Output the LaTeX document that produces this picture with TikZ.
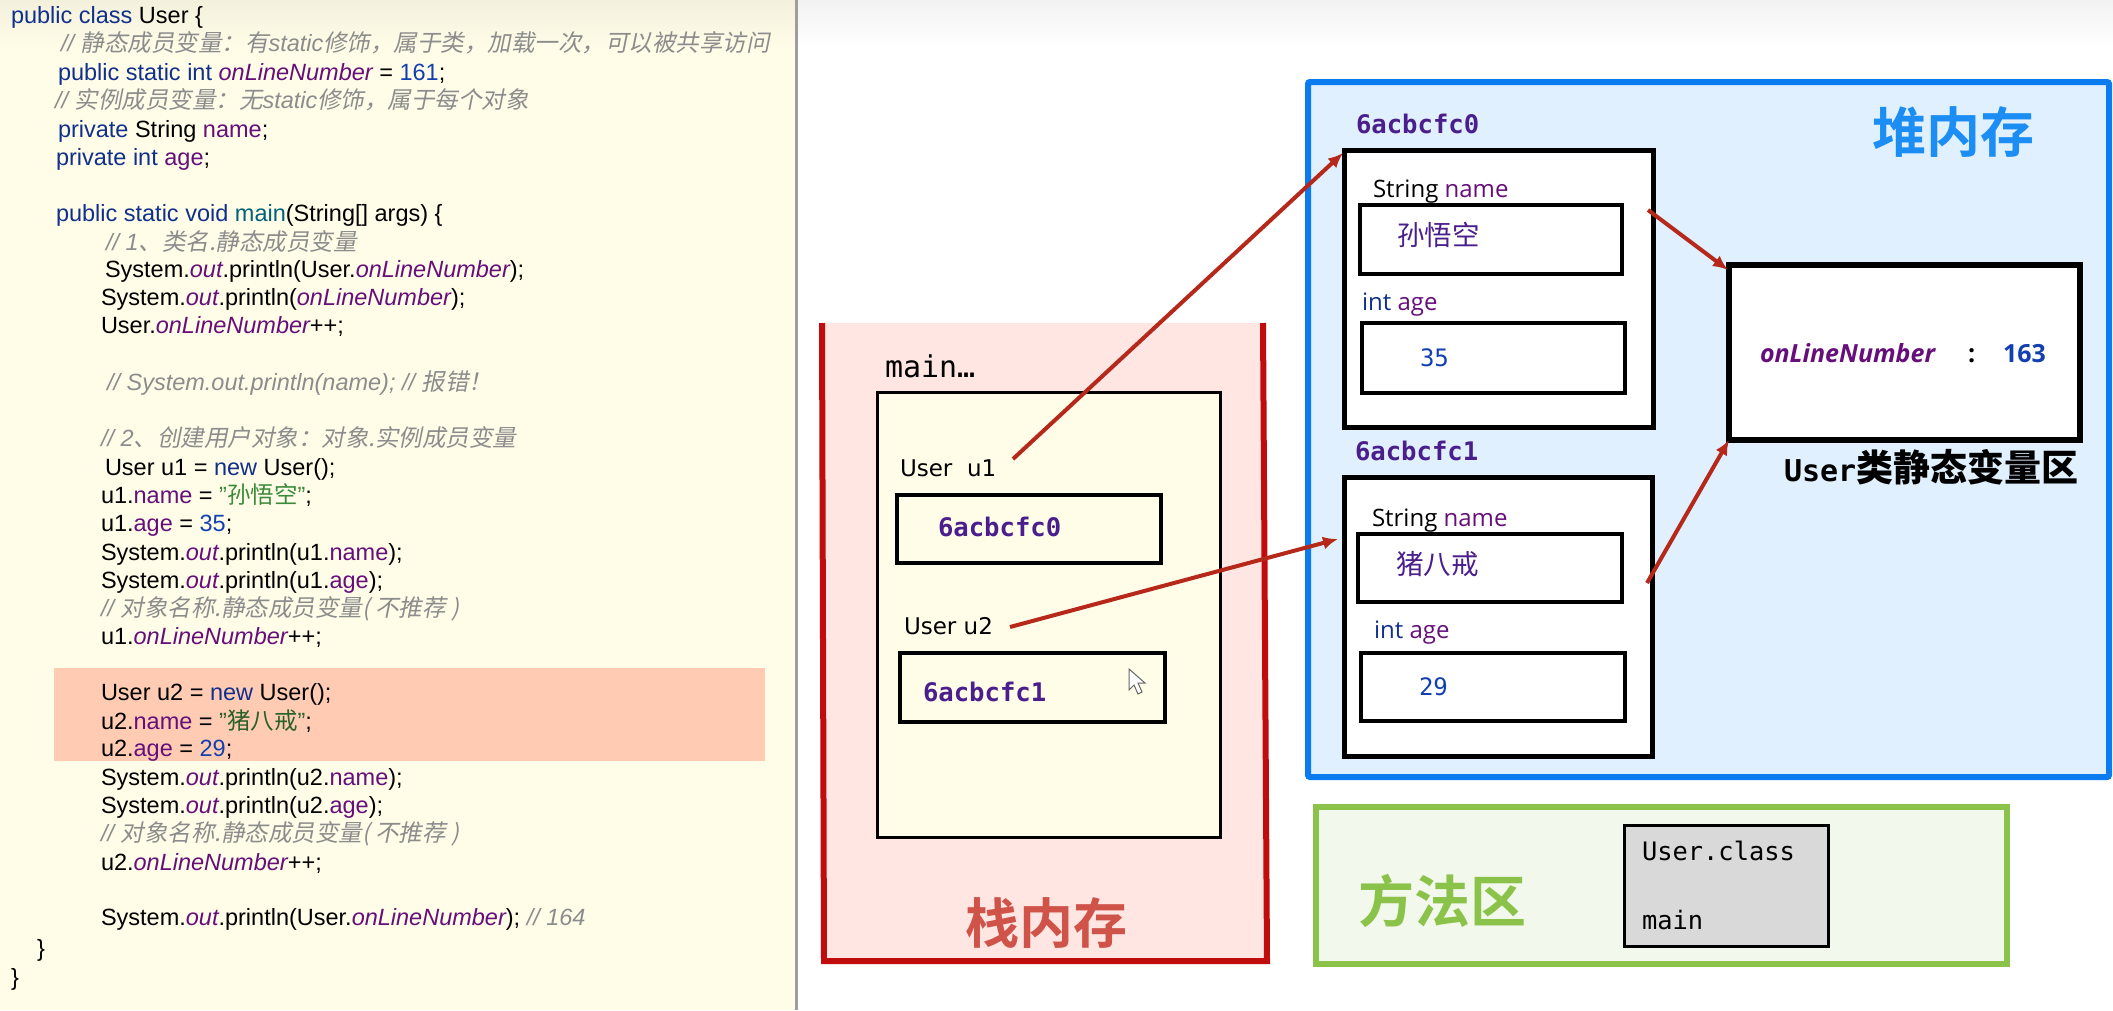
\documentclass[tikz,border=0pt]{standalone}
\usepackage{fontspec}
\setmainfont{Liberation Sans}
\newfontfamily\zhf{Noto Sans CJK SC}
\newfontfamily\zhbf{Noto Sans CJK SC Bold}
\newfontfamily\zhit[FakeSlant=0.2]{Noto Sans CJK SC}
\newfontfamily\monof{DejaVu Sans Mono}
\newfontfamily\dvs{DejaVu Sans}
\newfontfamily\ops{Open Sans}
\usetikzlibrary{arrows.meta,shadings,calc}
\definecolor{kw}{HTML}{10308C}
\definecolor{fld}{HTML}{660E7A}
\definecolor{cmt}{HTML}{8C8C8C}
\definecolor{strg}{HTML}{3A8A3A}
\definecolor{numc}{HTML}{1240B0}
\definecolor{mth}{HTML}{00627A}
\definecolor{paper}{HTML}{FFFDE8}
\definecolor{papertop}{HTML}{F3F0DC}
\definecolor{hilite}{HTML}{FFCCB3}
\definecolor{stackred}{HTML}{C00C0C}
\definecolor{stackfill}{HTML}{FFE6E3}
\definecolor{stacktxt}{HTML}{CF5348}
\definecolor{heapb}{HTML}{0A7CF0}
\definecolor{heapfill}{HTML}{E1F0FE}
\definecolor{heaptxt}{HTML}{1C8DF2}
\definecolor{methb}{HTML}{8BC34A}
\definecolor{methfill}{HTML}{F3F8EC}
\definecolor{addr}{HTML}{4A1E8C}
\definecolor{arrowc}{HTML}{B5281A}
\newcommand{\kw}[1]{\textcolor{kw}{#1}}
\newcommand{\fl}[1]{\textcolor{fld}{#1}}
\newcommand{\sfl}[1]{\textcolor{fld}{\itshape #1}}
\newcommand{\nm}[1]{\textcolor{numc}{#1}}
\newcommand{\zc}[1]{{\zhit #1}}
\newcommand{\cm}[1]{\textcolor{cmt}{\itshape #1}}
\newcommand{\pxf}[1]{\fontsize{#1pt}{#1pt}\selectfont}
\tikzset{
  x=1pt,y=-1pt,
  codeline/.style={anchor=base west,inner sep=0pt,outer sep=0pt,font=\pxf{23.5}},
  txt/.style={anchor=base west,inner sep=0pt,outer sep=0pt},
  thinbox/.style={draw=black,line width=3pt,inner sep=0pt,outer sep=0pt},
  midbox/.style={draw=black,line width=4pt,fill=white,inner sep=0pt,outer sep=0pt},
  bigbox/.style={draw=black,line width=5pt,fill=white,inner sep=0pt,outer sep=0pt},
  lnk/.style={draw=arrowc,line width=4pt,-{Latex[length=15pt,width=13pt]}},
  addrtxt/.style={txt,font=\monof\bfseries\pxf{25.6},text=addr},
  vartxt/.style={txt,font=\ops\pxf{24}},
  zhval/.style={txt,font=\zhf\pxf{27.5},text=addr},
  numval/.style={txt,font=\monof\pxf{24},text=numc},
}
% box by corners
\newcommand{\bx}[6]{%
  \pgfmathsetmacro{\bxw}{#5-#3}\pgfmathsetmacro{\bxh}{#6-#4}%
  \node[#2,minimum width=\bxw pt,minimum height=\bxh pt,anchor=north west] (#1) at (#3,#4) {};}
\newcommand{\cl}[3]{\node[codeline] (#1) at (#2) {#3};}
\begin{document}
\begin{tikzpicture}
\useasboundingbox (0,0) rectangle (2113,1010);
\fill[white] (0,0) rectangle (2113,1010);
\shade[top color=black!5,bottom color=white] (797,0) rectangle (2113,48);
\fill[paper] (0,0) rectangle (796,1010);
\shade[top color=papertop,bottom color=paper] (0,0) rectangle (796,48);
\fill[black!38] (794.5,0) rectangle (797.5,1010);
% highlight
\fill[hilite] (54,668) rectangle (765,761);
% code
\cl{c01}{11,23}{\kw{public class} User \{}
\cl{c02}{61,51}{\cm{// \zc{静态成员变量：有}static\zc{修饰，属于类，加载一次，可以被共享访问}}}
\cl{c03}{58,80}{\kw{public static int} \sfl{onLineNumber} = \nm{161};}
\cl{c04}{55,108}{\cm{// \zc{实例成员变量：无}static\zc{修饰，属于每个对象}}}
\cl{c05}{58,137}{\kw{private} String \fl{name};}
\cl{c06}{56,165}{\kw{private int} \fl{age};}
\cl{c07}{56,221}{\kw{public static void} \textcolor{mth}{main}(String[] args) \{}
\cl{c08}{106,250}{\cm{// 1\zc{、类名.静态成员变量}}}
\cl{c09}{105,277}{System.\sfl{out}.println(User.\sfl{onLineNumber});}
\cl{c10}{101,305}{System.\sfl{out}.println(\sfl{onLineNumber});}
\cl{c11}{101,333}{User.\sfl{onLineNumber}++;}
\cl{c12}{107,390}{\cm{// System.out.println(name); // \zc{报错！}}}
\cl{c13}{101,446}{\cm{// 2\zc{、创建用户对象：对象.实例成员变量}}}
\cl{c14}{105,475}{User u1 = \kw{new} User();}
\cl{c15}{101,503}{u1.\fl{name} = \textcolor{strg}{"{\zhf 孙悟空}"};}
\cl{c16}{101,531}{u1.\fl{age} = \nm{35};}
\cl{c17}{101,560}{System.\sfl{out}.println(u1.\fl{name});}
\cl{c18}{101,588}{System.\sfl{out}.println(u1.\fl{age});}
\cl{c19}{101,616}{\cm{// \zc{对象名称.静态成员变量( 不推荐 )}}}
\cl{c20}{101,644}{u1.\sfl{onLineNumber}++;}
\cl{c21}{101,700}{User u2 = \kw{new} User();}
\cl{c22}{101,729}{u2.\fl{name} = \textcolor{strg!70!black}{"{\zhf 猪八戒}"};}
\cl{c23}{101,756}{u2.\fl{age} = \nm{29};}
\cl{c24}{101,785}{System.\sfl{out}.println(u2.\fl{name});}
\cl{c25}{101,813}{System.\sfl{out}.println(u2.\fl{age});}
\cl{c26}{101,841}{\cm{// \zc{对象名称.静态成员变量( 不推荐 )}}}
\cl{c27}{101,870}{u2.\sfl{onLineNumber}++;}
\cl{c28}{101,925}{System.\sfl{out}.println(User.\sfl{onLineNumber}); \cm{// 164}}
\cl{c29}{37,956}{\}}
\cl{c30}{11,985}{\}}
% stack
\fill[stackfill] (823,323) rectangle (1265,958);
\draw[stackred,line width=6pt] (822,323) -- (824,961) -- (1267,961) -- (1263,323);
\node[txt,font=\monof\pxf{30}] (mainlbl) at (885,377) {main…};
\bx{frame}{thinbox,fill=paper}{877}{392}{1220}{837}
\node[txt,font=\dvs\pxf{23}] (u1lbl) at (900,476) {User\ \ u1};
\bx{u1box}{midbox,fill=paper}{897}{495}{1161}{563}
\node[addrtxt] (u1val) at (938,536) {6acbcfc0};
\node[txt,font=\dvs\pxf{23}] (u2lbl) at (904,634) {User u2};
\bx{u2box}{midbox,fill=paper}{900}{653}{1165}{722}
\node[addrtxt] (u2val) at (923,701) {6acbcfc1};
\draw[fill=white,draw=black!60,line width=1pt] (1129,669) -- (1129,690) -- (1134,685) -- (1138,694) -- (1142,692) -- (1138,683) -- (1145,683) -- cycle;
\node[txt,font=\zhbf\pxf{54},text=stacktxt] (stacklbl) at (965,943) {栈内存};
% heap
\draw[heapb,fill=heapfill,line width=6pt,rounded corners=2pt] (1308,82) rectangle (2109,777);
\node[txt,font=\zhbf\pxf{54},text=heaptxt] (heaplbl) at (1872,152) {堆内存};
\node[addrtxt] (a0lbl) at (1356,133) {6acbcfc0};
\bx{boxA}{bigbox}{1344}{150}{1653}{427}
\node[vartxt] (a1) at (1373,197) {String \textcolor{fld}{name}};
\bx{boxAn}{midbox}{1360}{205}{1622}{274}
\node[zhval] (a2) at (1397,245) {孙悟空};
\node[vartxt] (a3) at (1362,310) {\textcolor{kw}{int} \textcolor{fld}{age}};
\bx{boxAa}{midbox}{1362}{323}{1625}{393}
\node[numval] (a4) at (1420,366) {35};
\node[addrtxt] (a1lbl) at (1355,460) {6acbcfc1};
\bx{boxB}{bigbox}{1344}{477}{1652}{756}
\node[vartxt] (b1) at (1372,526) {String \textcolor{fld}{name}};
\bx{boxBn}{midbox}{1358}{534}{1622}{602}
\node[zhval] (b2) at (1396,574) {猪八戒};
\node[vartxt] (b3) at (1374,638) {\textcolor{kw}{int} \textcolor{fld}{age}};
\bx{boxBa}{midbox}{1361}{653}{1625}{721}
\node[numval] (b4) at (1419,695) {29};
\bx{statbox}{bigbox,line width=6pt}{1729}{265}{2080}{440}
\node[txt,font=\ops\bfseries\itshape\pxf{25},text=fld] (s1) at (1760,362) {onLineNumber};
\node[txt,font=\ops\bfseries\pxf{25}] (s2) at (1968,362) {:};
\node[txt,font=\ops\bfseries\pxf{25},text=numc] (s3) at (2003,362) {163};
\node[txt] (statlbl) at (1784,481) {\monof\bfseries\pxf{30}User{\zhbf\pxf{37}类静态变量区}};
% method area
\bx{methbox}{draw=methb,fill=methfill,line width=6pt,inner sep=0pt,outer sep=0pt}{1316}{807}{2007}{964}
\node[txt,font=\zhbf\pxf{56},text=methb] (methlbl) at (1358,922) {方法区};
\bx{classbox}{thinbox,fill=black!15}{1624}{825}{1828}{946}
\node[txt,font=\monof\pxf{25.4}] (cl1) at (1642,860) {User.class};
\node[txt,font=\monof\pxf{25.4}] (cl2) at (1642,929) {main};
% connectors
\coordinate (u1tail) at (1013,459);
\coordinate (u2tail) at (1010,627);
\coordinate (u2head) at (1338,539);
\coordinate (Atail) at (1648,210);
\coordinate (Btail) at (1647,583);
\draw[lnk] (u1tail) -- ($(boxA.north west)+(-1,3)$);
\draw[lnk] (u2tail) -- (u2head);
\draw[lnk] (Atail) -- ($(statbox.north west)+(-1,5)$);
\draw[lnk] (Btail) -- (statbox.south west);
\end{tikzpicture}
\end{document}
